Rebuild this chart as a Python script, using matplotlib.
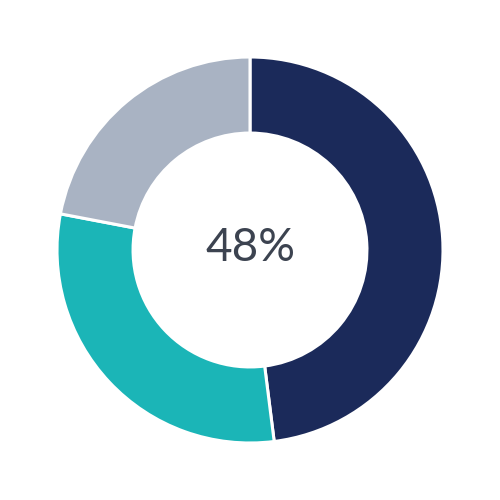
import matplotlib.pyplot as plt

# slice shares, clockwise from the top
labels = ["Navy", "Teal", "Gray"]
values = [48, 30, 22]
colors = ["#1b2a5a", "#1bb5b7", "#a9b3c3"]
center_text = "48%"

fig = plt.figure(figsize=(5, 5), dpi=100)
ax = fig.add_axes([0, 0, 1, 1])

ax.pie(values, colors=colors, startangle=90, counterclock=False, radius=1.0,
       wedgeprops=dict(width=0.394, edgecolor="white", linewidth=2.2))

ax.text(0, 0.01, center_text, ha="center", va="center", fontsize=33,
        family=["Lato", "DejaVu Sans"], color="#3c4350")

lim = 250 / 193
ax.set_xlim(-lim, lim)
ax.set_ylim(-lim, lim)
ax.set_aspect("equal")
ax.axis("off")

plt.savefig("out.png", dpi=100, facecolor="white")
